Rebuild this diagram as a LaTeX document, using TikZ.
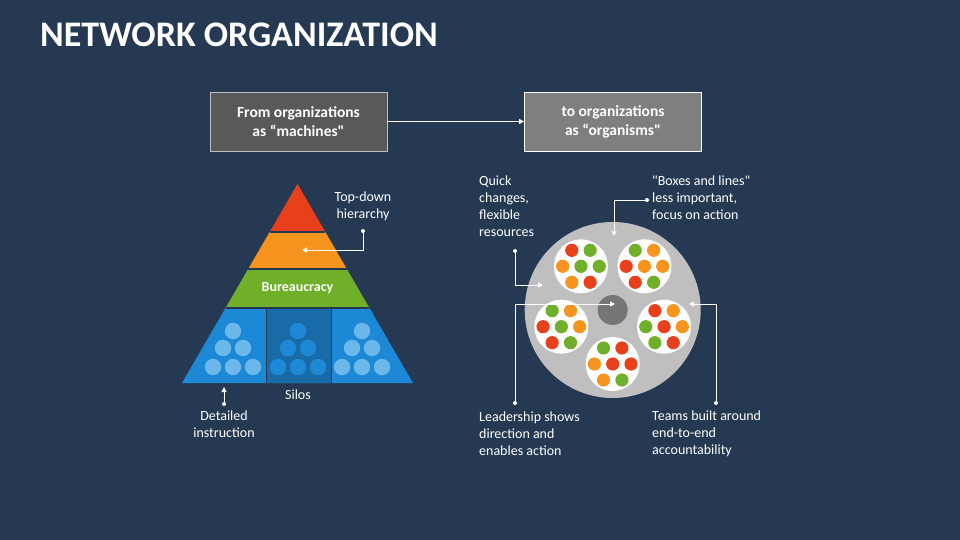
\documentclass[tikz,border=0pt]{standalone}
\usepackage{fontspec}
\setmainfont{Carlito}
\usetikzlibrary{positioning,calc,arrows.meta}

\definecolor{navy}{RGB}{37,57,83}
\definecolor{boxdark}{RGB}{89,89,89}
\definecolor{boxgray}{RGB}{127,127,127}
\definecolor{pyrred}{RGB}{232,64,26}
\definecolor{pyrorange}{RGB}{247,148,30}
\definecolor{pyrgreen}{RGB}{111,175,42}
\definecolor{pyrblue}{RGB}{29,137,214}
\definecolor{pyrdeep}{RGB}{24,107,167}
\definecolor{ballblue}{RGB}{108,184,234}
\definecolor{discgray}{RGB}{191,191,191}
\definecolor{hubgray}{RGB}{118,118,118}
\colorlet{r}{pyrred}
\colorlet{o}{pyrorange}
\colorlet{g}{pyrgreen}

\begin{document}
\begin{tikzpicture}[x=1pt,y=-1pt,
    lbl/.style={text=white,font=\fontsize{14}{17}\selectfont,inner sep=0pt},
    box/.style={font=\bfseries\fontsize{15.5}{19}\selectfont,text=white,align=center,
      minimum width=177,minimum height=59,line width=0.8pt},
    conn/.style={white,line width=1pt,-{Triangle[length=5pt,width=5pt]}},
    dot/.style={white}]
  \useasboundingbox (0,0) rectangle (960,540);
  \fill[navy] (0,0) rectangle (960,540);

  % title
  \node[anchor=base west,text=white,inner sep=0pt,font=\bfseries\fontsize{36}{42}\selectfont] (title) at (40,47) {NETWORK ORGANIZATION};

  % machines -> organisms
  \node[box,fill=boxdark,draw=discgray] (machines) at (298.5,121.5) {From organizations\\as “machines\textquotedbl};
  \node[box,fill=boxgray,draw=white] (organisms) at (613,121.5) {to organizations\\as “organisms\textquotedbl};
  \draw[conn,line width=1.5pt] (machines.east) -- (organisms.west);

  % pyramid
  \coordinate (apex) at (297.5,184);
  \coordinate (bl) at (182,383);
  \coordinate (br) at (413,383);
  \coordinate (l1) at ($(apex)!0.2387!(bl)$);
  \coordinate (r1) at ($(apex)!0.2387!(br)$);
  \coordinate (l2) at ($(apex)!0.4296!(bl)$);
  \coordinate (r2) at ($(apex)!0.4296!(br)$);
  \coordinate (l3) at ($(apex)!0.6231!(bl)$);
  \coordinate (r3) at ($(apex)!0.6231!(br)$);
  \fill[pyrred] (apex) -- (r1) -- (l1) -- cycle;
  \fill[pyrorange] (l1) -- (r1) -- (r2) -- (l2) -- cycle;
  \fill[pyrgreen] (l2) -- (r2) -- (r3) -- (l3) -- cycle;
  \fill[pyrblue] (l3) -- (r3) -- (br) -- (bl) -- cycle;
  \fill[pyrdeep] (266,308) rectangle (331,383);
  \draw[navy,line width=2pt] (l1) -- (r1) (l2) -- (r2) (l3) -- (r3);
  \draw[navy,line width=1pt] (266,308) -- (266,383) (331,308) -- (331,383);
  \foreach \cx/\col in {233/ballblue,298/pyrblue,362/ballblue}
    \foreach \dx/\dy in {0/331,-10/348,10/348,-20/367,0/367,20/367}
      \fill[\col] (\cx+\dx,\dy) circle [radius=8.2];

  \node[lbl,font=\bfseries\fontsize{14}{17}\selectfont] (bureau) at (297.5,288) {Bureaucracy};
  \node[lbl] (silos) at (298,395) {Silos};
  \node[lbl,align=center] (topdown) at (363,206.5) {Top-down\\hierarchy};
  \node[lbl,align=center] (detailed) at (224,424.5) {Detailed\\instruction};

  \coordinate (tdDot) at (363,231);
  \coordinate (tdTip) at (302,250);
  \coordinate (diDot) at (224,404);
  \coordinate (diTip) at (224,387);
  \fill[dot] (tdDot) circle [radius=2];
  \fill[dot] (diDot) circle [radius=2];
  \draw[conn] (tdDot) |- (tdTip);
  \draw[conn] (diDot) -- (diTip);

  % network of teams
  \coordinate (hub) at (612.7,310);
  \fill[discgray] (hub) circle [radius=88];
  \fill[hubgray] (hub) circle [radius=15];
  \foreach \ang/\ca/\cb/\cc/\cd/\ce/\cf/\cg in
      {234/r/g/o/g/g/o/r, 306/g/o/r/o/o/r/g, 162/g/o/r/g/o/r/g,
        18/r/o/g/r/o/g/r, 90/g/r/o/r/r/o/g} {
    \coordinate (team) at ($(hub)+(\ang:54)$);
    \fill[white] (team) circle [radius=27];
    \fill[\ca] ([shift={(-9.2,-16)}]team) circle [radius=6.6];
    \fill[\cb] ([shift={(9.2,-16)}]team) circle [radius=6.6];
    \fill[\cc] ([shift={(-18.3,0)}]team) circle [radius=6.6];
    \fill[\cd] (team) circle [radius=6.6];
    \fill[\ce] ([shift={(18.3,0)}]team) circle [radius=6.6];
    \fill[\cf] ([shift={(-9.2,16)}]team) circle [radius=6.6];
    \fill[\cg] ([shift={(9.2,16)}]team) circle [radius=6.6];
  }

  \node[lbl,align=left,anchor=west] (quick) at (479,206) {Quick\\changes,\\flexible\\resources};
  \node[lbl,align=left,anchor=west] (boxes) at (652,197.5) {\textquotedbl Boxes and lines\textquotedbl\\less important,\\focus on action};
  \node[lbl,align=left,anchor=west] (leader) at (479,433.5) {Leadership shows\\direction and\\enables action};
  \node[lbl,align=left,anchor=west] (teams) at (652,433.5) {Teams built around\\end-to-end\\accountability};

  \coordinate (qcDot) at (515,251);
  \coordinate (qcTip) at (543,285);
  \coordinate (blDot) at (647,200);
  \coordinate (blTip) at (614,236);
  \coordinate (lsDot) at (515,403);
  \coordinate (lsTip) at (615,304);
  \coordinate (tbDot) at (716,403);
  \coordinate (tbTip) at (689,304);
  \foreach \d in {qcDot,blDot,lsDot,tbDot}
    \fill[dot] (\d) circle [radius=2];
  \draw[conn] (qcDot) |- (qcTip);
  \draw[conn] (blDot) -| (blTip);
  \draw[conn] (lsDot) |- (lsTip);
  \draw[conn] (tbDot) |- (tbTip);
\end{tikzpicture}
\end{document}
